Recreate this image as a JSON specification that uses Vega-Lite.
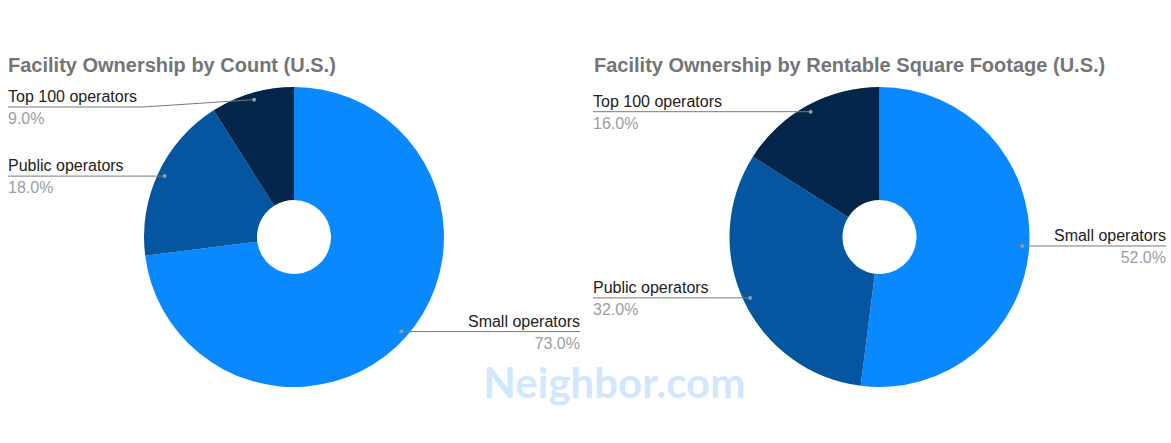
{
  "$schema": "https://vega.github.io/schema/vega-lite/v6.json",
  "padding": {"top": 31, "left": 0, "right": 0, "bottom": 0},
  "spacing": 0,
  "background": "white",
  "config": {"view": {"stroke": null}, "font": "Liberation Sans", "concat": {"spacing": 0}},
  "title": {"text": "Neighbor.com", "orient": "bottom", "anchor": "middle", "offset": -45, "dx": 29, "baseline": "alphabetic", "font": "Lato", "fontSize": 42, "fontWeight": "bold", "color": "#d0e7fd"},
  "datasets": {
    "count": [
      {"category": "Small operators", "share": 0.73, "order": 1},
      {"category": "Public operators", "share": 0.18, "order": 2},
      {"category": "Top 100 operators", "share": 0.09, "order": 3}
    ],
    "sqft": [
      {"category": "Small operators", "share": 0.52, "order": 1},
      {"category": "Public operators", "share": 0.32, "order": 2},
      {"category": "Top 100 operators", "share": 0.16, "order": 3}
    ]
  },
  "hconcat": [
    {
      "width": 588, "height": 412,
      "data": {"name": "count"},
      "title": {"text": "Facility Ownership by Count (U.S.)", "anchor": "start", "frame": "group", "orient": "top", "offset": -61, "dx": 8, "baseline": "alphabetic", "fontSize": 20, "fontWeight": "bold", "color": "#757575"},
      "transform": [
        {"joinaggregate": [{"op": "sum", "field": "share", "as": "total"}]},
        {"window": [{"op": "sum", "field": "share", "as": "cum"}], "sort": [{"field": "order"}], "frame": [null, 0]},
        {"calculate": "2*PI*(datum.cum - datum.share/2)/datum.total", "as": "mid"},
        {"calculate": "143*sin(datum.mid)", "as": "px"},
        {"calculate": "143*cos(datum.mid)", "as": "py"},
        {"calculate": "datum.px < 0 ? -1 : 1", "as": "side"},
        {"calculate": "datum.side*286", "as": "lx"},
        {"calculate": "min(datum.py, 130)", "as": "ly"},
        {"calculate": "datum.lx - datum.side*135", "as": "bx"}
      ],
      "layer": [
        {
          "mark": {"type": "arc", "outerRadius": 150, "innerRadius": 37},
          "encoding": {
            "theta": {"field": "share", "type": "quantitative", "stack": true},
            "order": {"field": "order", "type": "quantitative"},
            "color": {"field": "category", "type": "nominal", "legend": null,
              "scale": {"domain": ["Small operators", "Public operators", "Top 100 operators"], "range": ["#0a89ff", "#03569f", "#04264a"]}}
          }
        },
        {
          "mark": {"type": "rule", "color": "#7a7a7a", "strokeWidth": 1},
          "encoding": {
            "x": {"field": "lx", "type": "quantitative", "scale": {"domain": [-294, 294], "nice": false}, "axis": null},
            "x2": {"field": "bx"},
            "y": {"field": "ly", "type": "quantitative", "scale": {"domain": [-206, 206], "nice": false}, "axis": null}
          }
        },
        {
          "mark": {"type": "rule", "color": "#7a7a7a", "strokeWidth": 1},
          "encoding": {
            "x": {"field": "bx", "type": "quantitative", "scale": {"domain": [-294, 294], "nice": false}, "axis": null},
            "x2": {"field": "px"},
            "y": {"field": "ly", "type": "quantitative", "scale": {"domain": [-206, 206], "nice": false}, "axis": null},
            "y2": {"field": "py"}
          }
        },
        {
          "mark": {"type": "circle", "color": "#9a9a9a", "opacity": 1, "size": 16},
          "encoding": {
            "x": {"field": "px", "type": "quantitative", "scale": {"domain": [-294, 294], "nice": false}, "axis": null},
            "y": {"field": "py", "type": "quantitative", "scale": {"domain": [-206, 206], "nice": false}, "axis": null}
          }
        },
        {
          "mark": {"type": "text", "fontSize": 16, "color": "#222222", "dy": -5, "baseline": "alphabetic", "align": {"expr": "datum.side < 0 ? 'left' : 'right'"}},
          "encoding": {
            "x": {"field": "lx", "type": "quantitative", "scale": {"domain": [-294, 294], "nice": false}, "axis": null},
            "y": {"field": "ly", "type": "quantitative", "scale": {"domain": [-206, 206], "nice": false}, "axis": null},
            "text": {"field": "category"}
          }
        },
        {
          "mark": {"type": "text", "fontSize": 16, "color": "#9e9e9e", "dy": 17, "baseline": "alphabetic", "align": {"expr": "datum.side < 0 ? 'left' : 'right'"}},
          "encoding": {
            "x": {"field": "lx", "type": "quantitative", "scale": {"domain": [-294, 294], "nice": false}, "axis": null},
            "y": {"field": "ly", "type": "quantitative", "scale": {"domain": [-206, 206], "nice": false}, "axis": null},
            "text": {"field": "share", "format": ".1%"}
          }
        }
      ]
    },
    {
      "width": 583, "height": 412,
      "data": {"name": "sqft"},
      "title": {"text": "Facility Ownership by Rentable Square Footage (U.S.)", "anchor": "start", "frame": "group", "orient": "top", "offset": -61, "dx": 6, "baseline": "alphabetic", "fontSize": 20, "fontWeight": "bold", "color": "#757575"},
      "transform": [
        {"joinaggregate": [{"op": "sum", "field": "share", "as": "total"}]},
        {"window": [{"op": "sum", "field": "share", "as": "cum"}], "sort": [{"field": "order"}], "frame": [null, 0]},
        {"calculate": "2*PI*(datum.cum - datum.share/2)/datum.total", "as": "mid"},
        {"calculate": "143*sin(datum.mid)", "as": "px"},
        {"calculate": "143*cos(datum.mid)", "as": "py"},
        {"calculate": "datum.px < 0 ? -1 : 1", "as": "side"},
        {"calculate": "datum.side*286.5", "as": "lx"},
        {"calculate": "min(datum.py, 130)", "as": "ly"},
        {"calculate": "datum.lx - datum.side*135", "as": "bx"}
      ],
      "layer": [
        {
          "mark": {"type": "arc", "outerRadius": 150, "innerRadius": 37},
          "encoding": {
            "theta": {"field": "share", "type": "quantitative", "stack": true},
            "order": {"field": "order", "type": "quantitative"},
            "color": {"field": "category", "type": "nominal", "legend": null,
              "scale": {"domain": ["Small operators", "Public operators", "Top 100 operators"], "range": ["#0a89ff", "#03569f", "#04264a"]}}
          }
        },
        {
          "mark": {"type": "rule", "color": "#7a7a7a", "strokeWidth": 1},
          "encoding": {
            "x": {"field": "lx", "type": "quantitative", "scale": {"domain": [-291.5, 291.5], "nice": false}, "axis": null},
            "x2": {"field": "bx"},
            "y": {"field": "ly", "type": "quantitative", "scale": {"domain": [-206, 206], "nice": false}, "axis": null}
          }
        },
        {
          "mark": {"type": "rule", "color": "#7a7a7a", "strokeWidth": 1},
          "encoding": {
            "x": {"field": "bx", "type": "quantitative", "scale": {"domain": [-291.5, 291.5], "nice": false}, "axis": null},
            "x2": {"field": "px"},
            "y": {"field": "ly", "type": "quantitative", "scale": {"domain": [-206, 206], "nice": false}, "axis": null},
            "y2": {"field": "py"}
          }
        },
        {
          "mark": {"type": "circle", "color": "#9a9a9a", "opacity": 1, "size": 16},
          "encoding": {
            "x": {"field": "px", "type": "quantitative", "scale": {"domain": [-291.5, 291.5], "nice": false}, "axis": null},
            "y": {"field": "py", "type": "quantitative", "scale": {"domain": [-206, 206], "nice": false}, "axis": null}
          }
        },
        {
          "mark": {"type": "text", "fontSize": 16, "color": "#222222", "dy": -5, "baseline": "alphabetic", "align": {"expr": "datum.side < 0 ? 'left' : 'right'"}},
          "encoding": {
            "x": {"field": "lx", "type": "quantitative", "scale": {"domain": [-291.5, 291.5], "nice": false}, "axis": null},
            "y": {"field": "ly", "type": "quantitative", "scale": {"domain": [-206, 206], "nice": false}, "axis": null},
            "text": {"field": "category"}
          }
        },
        {
          "mark": {"type": "text", "fontSize": 16, "color": "#9e9e9e", "dy": 17, "baseline": "alphabetic", "align": {"expr": "datum.side < 0 ? 'left' : 'right'"}},
          "encoding": {
            "x": {"field": "lx", "type": "quantitative", "scale": {"domain": [-291.5, 291.5], "nice": false}, "axis": null},
            "y": {"field": "ly", "type": "quantitative", "scale": {"domain": [-206, 206], "nice": false}, "axis": null},
            "text": {"field": "share", "format": ".1%"}
          }
        }
      ]
    }
  ]
}
